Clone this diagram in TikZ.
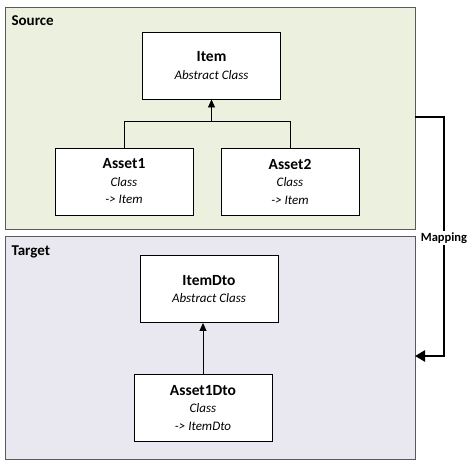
\documentclass[tikz,border=0pt]{standalone}
\usepackage{fontspec}
\setmainfont{Carlito}
\usetikzlibrary{arrows.meta}
\definecolor{srcgreen}{HTML}{EBF1DE}
\definecolor{tgtpurple}{HTML}{E9E7F0}
\definecolor{frame}{HTML}{5A5A5A}
\begin{document}
\begin{tikzpicture}[x=1pt,y=-1pt,
  container/.style={draw=frame,line width=0.9pt},
  cls/.style={draw=black,fill=white,line width=0.9pt,minimum width=138pt,minimum height=67pt,inner sep=0pt,align=center,font=\fontsize{13}{17.5}\selectfont},
  title/.style={font=\bfseries\fontsize{15}{17}\selectfont,anchor=west},
  inh/.style={line width=0.8pt,-{Triangle[length=8pt,width=7pt]}},
  map/.style={line width=2.6pt,-{Triangle[length=10pt,width=11pt]}}]
\useasboundingbox (0,0) rectangle (474,469);
\draw[container,fill=srcgreen] (5,7) rectangle (415,229);
\draw[container,fill=tgtpurple] (5,236) rectangle (415,459);
\coordinate (srcR) at (415,117);
\coordinate (tgtR) at (415,356);
\node[title] (srcT) at (8,21) {Source};
\node[title] (tgtT) at (8,252) {Target};
\newcommand{\clshead}[1]{{\fontsize{15.5}{18}\selectfont\bfseries #1}}
\node[cls] (item) at (211.5,65.5) {\clshead{Item}\\\textit{Abstract Class}};
\node[cls] (a1) at (124,181.5) {\clshead{Asset1}\\\textit{Class}\\\textit{-> Item}};
\node[cls] (a2) at (290,181.5) {\clshead{Asset2}\\\textit{Class}\\\textit{-> Item}};
\node[cls] (idto) at (209,289) {\clshead{ItemDto}\\\textit{Abstract Class}};
\node[cls] (adto) at (203,408) {\clshead{Asset1Dto}\\\textit{Class}\\\textit{-> ItemDto}};
\coordinate (jn) at (211.5,121.5);
\draw[line width=0.8pt] (a1.north) |- (jn) -| (a2.north);
\draw[inh] (jn) -- (item.south);
\draw[inh] (adto.north) -- (adto.north |- idto.south);
\node[fill=white,inner sep=1pt,font=\bfseries\fontsize{12.5}{14}\selectfont] (maplbl) at (444,238) {Mapping};
\draw[line width=2.6pt] (srcR) -- (444,117) -- (maplbl.north);
\draw[map] (maplbl.south) -- (444,356) -- (tgtR);
\end{tikzpicture}
\end{document}
